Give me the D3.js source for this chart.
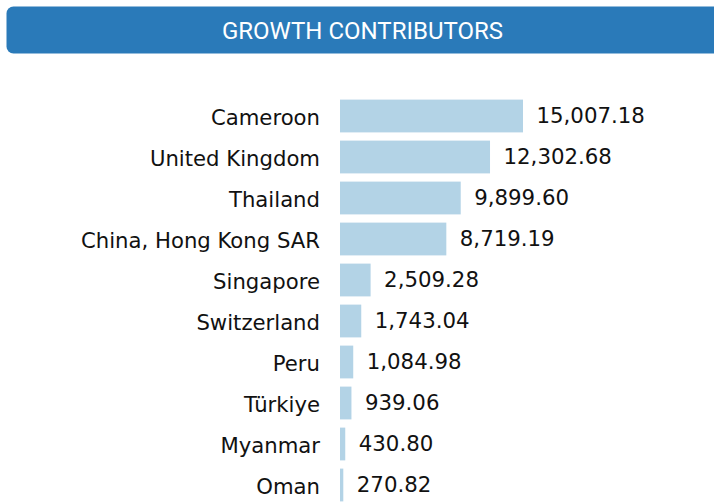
<!DOCTYPE html>
<html>
<head>
<meta charset="utf-8">
<script src="https://cdn.jsdelivr.net/npm/d3@7/dist/d3.min.js"></script>
<style>
  html, body { margin: 0; padding: 0; background: #fff; }
  svg { display: block; }
</style>
</head>
<body>
<svg id="chart" width="714" height="504"></svg>
<script>
const title = "GROWTH CONTRIBUTORS";
const countries = ["Cameroon", "United Kingdom", "Thailand", "China, Hong Kong SAR", "Singapore",
                   "Switzerland", "Peru", "Türkiye", "Myanmar", "Oman"];
const values = [15007.18, 12302.68, 9899.60, 8719.19, 2509.28, 1743.04, 1084.98, 939.06, 430.80, 270.82];

const svg = d3.select("#chart");

// header banner
svg.append("rect")
  .attr("x", 6.5).attr("y", 6.5).attr("width", 714).attr("height", 47)
  .attr("rx", 7).attr("ry", 7)
  .attr("fill", "#2a7ab9");
svg.append("text")
  .attr("x", 362.5).attr("y", 31)
  .attr("text-anchor", "middle").attr("dominant-baseline", "central")
  .attr("fill", "#ffffff")
  .style("font-family", "Roboto, sans-serif")
  .style("font-size", "24px")
  .style("font-weight", "400")
  .text(title);

const data = countries.map((c, i) => ({ name: c, value: values[i] }));

const x = d3.scaleLinear().domain([0, d3.max(values)]).range([340, 523]);
const y = d3.scaleBand().domain(countries).range([95.5, 95.5 + 41 * countries.length]).paddingInner(0.2).paddingOuter(0.1);

const g = svg.append("g");

g.selectAll("rect.bar").data(data).enter().append("rect")
  .attr("class", "bar")
  .attr("x", x(0))
  .attr("y", d => y(d.name))
  .attr("width", d => Math.max(3, x(d.value) - x(0)))
  .attr("height", y.bandwidth())
  .attr("fill", "#b3d3e6");

const fmt = d3.format(",.2f");

g.selectAll("text.val").data(data).enter().append("text")
  .attr("class", "val")
  .attr("x", d => Math.max(x(0) + 3, x(d.value)) + 13.5)
  .attr("y", d => y(d.name) + y.bandwidth() / 2 - 1)
  .attr("dominant-baseline", "central")
  .style("font-family", "DejaVu Sans, sans-serif")
  .style("font-size", "21.3px")
  .attr("fill", "#111")
  .text(d => fmt(d.value));

g.selectAll("text.cat").data(data).enter().append("text")
  .attr("class", "cat")
  .attr("x", 320)
  .attr("y", d => y(d.name) + y.bandwidth() / 2 + 1)
  .attr("text-anchor", "end")
  .attr("dominant-baseline", "central")
  .style("font-family", "DejaVu Sans, sans-serif")
  .style("font-size", "21.2px")
  .attr("fill", "#111")
  .text(d => d.name);
</script>
</body>
</html>
